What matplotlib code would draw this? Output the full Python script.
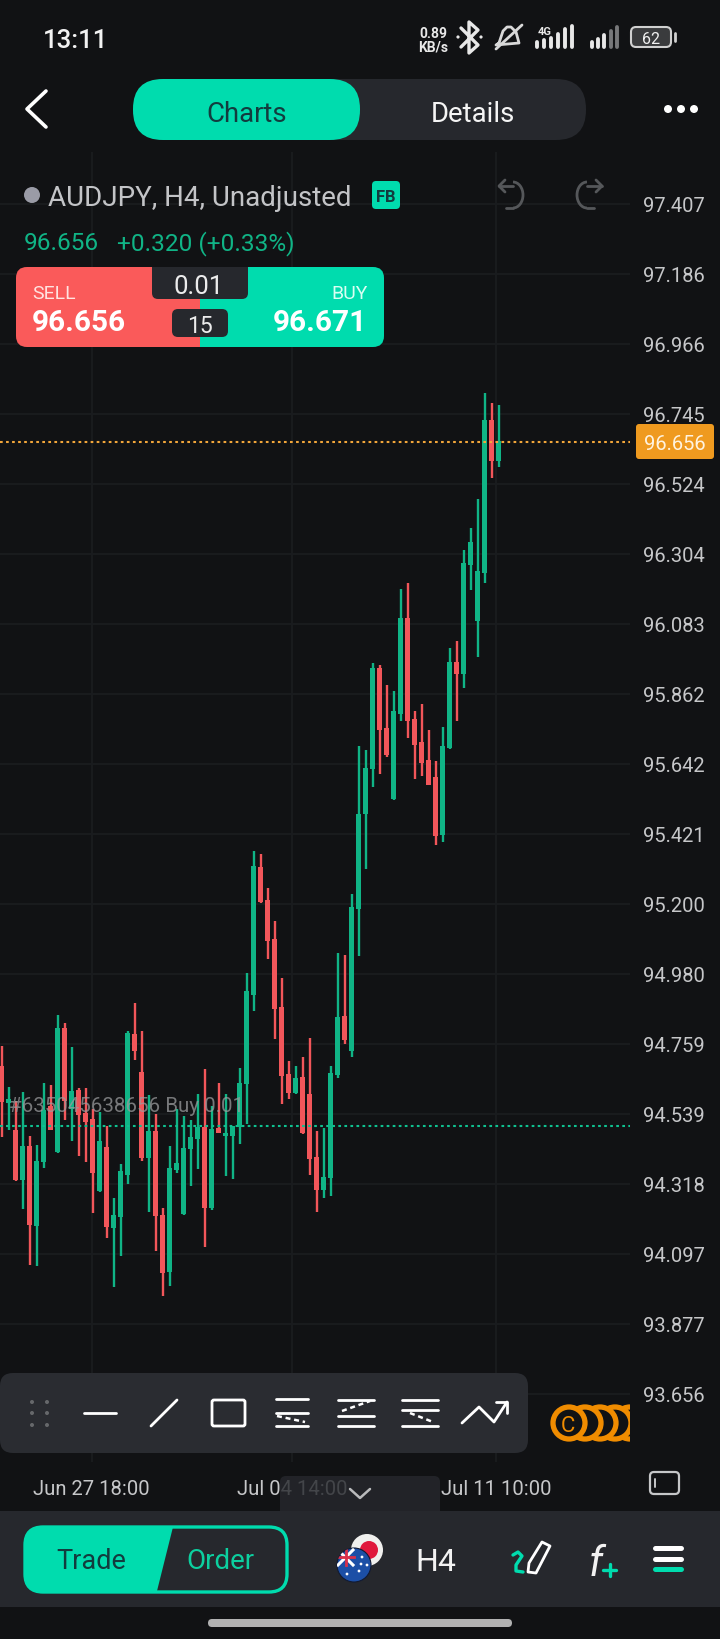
import matplotlib
matplotlib.use("Agg")
import matplotlib.pyplot as plt
from matplotlib.patches import FancyBboxPatch, Circle, Rectangle, Polygon, Arc

plt.rcParams['font.family'] = ['Roboto', 'DejaVu Sans']

#Data
opens = [94.688, 94.573, 94.486, 94.331, 94.438, 94.186, 94.386, 94.564, 94.417, 94.809,
         94.554, 94.612, 94.541, 94.522, 94.296, 94.433, 94.178, 94.212, 94.347, 94.790,
         94.669, 94.399, 94.485, 94.220, 94.039, 94.361, 94.223, 94.426, 94.459, 94.498,
         94.242, 94.494, 94.467, 94.470, 94.496, 94.631, 94.914, 95.316, 95.213, 95.090,
         94.874, 94.663, 94.603, 94.655, 94.602, 94.402, 94.297, 94.335, 94.661, 94.846,
         94.738, 95.183, 95.482, 95.625, 95.944, 95.755, 95.531, 95.799, 96.101, 95.783,
         95.710, 95.654, 95.599, 95.417, 95.691, 95.962, 95.926, 96.269, 96.091, 96.242,
         96.725, 96.597]
closes = [94.575, 94.585, 94.331, 94.438, 94.188, 94.390, 94.549, 94.488, 94.810, 94.580,
          94.610, 94.536, 94.514, 94.352, 94.454, 94.181, 94.220, 94.357, 94.793, 94.735,
          94.398, 94.484, 94.215, 94.036, 94.369, 94.382, 94.431, 94.465, 94.498, 94.242,
          94.491, 94.479, 94.477, 94.500, 94.635, 94.926, 95.319, 95.205, 95.084, 94.868,
          94.659, 94.605, 94.652, 94.478, 94.397, 94.297, 94.340, 94.666, 94.844, 94.771,
          95.190, 95.485, 95.630, 95.944, 95.749, 95.670, 95.807, 96.101, 95.776, 95.702,
          95.644, 95.576, 95.414, 95.699, 95.962, 95.926, 96.275, 96.342, 96.249, 96.725,
          96.597, 96.660]
highs = [94.751, 94.622, 94.580, 94.606, 94.470, 94.441, 94.635, 94.630, 94.850, 94.825,
         94.748, 94.619, 94.619, 94.554, 94.543, 94.501, 94.272, 94.381, 94.798, 94.888,
         94.798, 94.598, 94.538, 94.241, 94.436, 94.554, 94.531, 94.518, 94.601, 94.680,
         94.564, 94.636, 94.601, 94.501, 94.682, 94.981, 95.366, 95.358, 95.249, 95.145,
         94.966, 94.704, 94.688, 94.718, 94.776, 94.484, 94.493, 94.690, 95.044, 95.039,
         95.230, 95.697, 95.685, 95.959, 95.954, 95.890, 95.870, 96.193, 96.211, 95.807,
         95.829, 95.748, 95.650, 95.757, 96.006, 96.030, 96.314, 96.385, 96.475, 96.811,
         96.779, 96.773]
lows = [94.465, 94.486, 94.328, 94.239, 94.063, 94.060, 94.369, 94.486, 94.415, 94.519,
        94.454, 94.407, 94.388, 94.226, 94.293, 94.146, 93.992, 94.089, 94.318, 94.709,
        94.390, 94.228, 94.107, 93.964, 93.997, 94.353, 94.221, 94.312, 94.365, 94.120,
        94.234, 94.479, 94.344, 94.333, 94.442, 94.505, 94.864, 95.203, 95.025, 94.775,
        94.568, 94.585, 94.601, 94.476, 94.347, 94.230, 94.273, 94.280, 94.651, 94.757,
        94.719, 95.037, 95.310, 95.567, 95.610, 95.662, 95.529, 95.777, 95.722, 95.594,
        95.604, 95.574, 95.387, 95.394, 95.689, 95.777, 95.880, 96.191, 95.977, 96.213,
        96.541, 96.578]
price_ticks = ["97.407", "97.186", "96.966", "96.745", "96.524", "96.304", "96.083", "95.862", "95.642",
               "95.421", "95.200", "94.980", "94.759", "94.539", "94.318", "94.097", "93.877", "93.656"]
date_ticks = [12.85, 41.5, 70.65]
date_labels = ["Jun 27 18:00", "Jul 04 14:00", "Jul 11 10:00"]
bid_price = 96.656
order_price = 94.501

BG = "#111214"
PANEL = "#26282d"
TEAL = "#00dcae"
GREEN = "#10b486"
RED = "#f2565a"
DARK_TXT = "#123c3e"
GRID = "#1a1c1f"
LABEL = "#c6c7c9"
DOTS = (0, (1.3, 1.6))

fig = plt.figure(figsize=(7.2, 16.4), dpi=100, facecolor=BG)

#chart, axes box is 630 px wide, from y=153 to y=1463
ax = fig.add_axes([0, 1 - 1463/1640, 630/720, (1463 - 153)/1640], facecolor=BG, zorder=1)
ax.set_xlim(-0.24, 89.76)
ax.set_ylim(93.441, 97.570)
for s in ax.spines.values():
    s.set_visible(False)
ax.yaxis.tick_right()
ax.set_yticks([float(t) for t in price_ticks])
ax.set_yticklabels(price_ticks, fontsize=14.5, color=LABEL)
ax.set_xticks(date_ticks)
ax.set_xticklabels(date_labels, fontsize=14.6, color=LABEL)
ax.tick_params(axis='y', length=0, pad=9.5)
ax.tick_params(axis='x', length=0, pad=12)
ax.grid(True, color=GRID, lw=1.3)
ax.set_axisbelow(True)

x = list(range(len(opens)))
colors = [GREEN if c >= o else RED for o, c in zip(opens, closes)]
ax.vlines(x, lows, highs, colors=colors, lw=1.7, zorder=3)
ax.bar(x, [abs(c - o) for o, c in zip(opens, closes)], bottom=[min(o, c) for o, c in zip(opens, closes)],
       width=0.72, color=colors, zorder=3)

ax.axhline(bid_price, color="#f2a63a", lw=1.5, ls=DOTS, zorder=4)
ax.axhline(order_price, color="#0fc08f", lw=1.5, ls=DOTS, zorder=4)
ax.text(1.0, 94.565, "#635045638656 Buy 0.01", fontsize=14.8, color="#9a9b9d", alpha=0.75, va='center', zorder=5)

#app chrome on top, in pixel coords
ui = fig.add_axes([0, 0, 1, 1], zorder=2)
ui.set_xlim(0, 720)
ui.set_ylim(1640, 0)
ui.axis('off')
ui.patch.set_alpha(0)


def rbox(x0, y0, x1, y1, r, fc="none", ec="none", lw=0, z=2, **kw):
    p = FancyBboxPatch((x0 + r, y0 + r), x1 - x0 - 2*r, y1 - y0 - 2*r, boxstyle="round,pad=%g,rounding_size=%g" % (r, r),
                       fc=fc, ec=ec, lw=lw, zorder=z, **kw)
    ui.add_patch(p)
    return p


def line(xs, ys, c="white", lw=2, z=3, **kw):
    ui.plot(xs, ys, color=c, lw=lw, zorder=z, solid_capstyle='round', solid_joinstyle='round', **kw)


def label(x, y, s, size, c="white", ha='center', weight='normal', z=4, **kw):
    ui.text(x, y, s, fontsize=size, color=c, ha=ha, va='center_baseline', weight=weight, zorder=z, **kw)


# status bar
label(43, 39, "13:11", 18.6, c="#f2f2f2", ha='left', weight='medium')
label(433, 32, "0.89", 10, c="#e8e8e8", weight='bold')
label(433, 46, "KB/s", 10, c="#e8e8e8", weight='bold')
line([461, 478, 469, 469, 478, 461], [29, 46, 54, 23, 31, 48], c="#e8e8e8", lw=2.4)
ui.add_patch(Circle((458, 38), 1.6, fc="#e8e8e8", zorder=3))
ui.add_patch(Circle((481, 38), 1.6, fc="#e8e8e8", zorder=3))
line([499, 503, 507, 511, 516, 519, 496, 499], [44, 32, 28, 28, 33, 44, 46, 44], c="#d8d8d8", lw=2)
line([496, 522], [50, 26], c="#d8d8d8", lw=2)
label(545, 31, "4G", 8, c="#e8e8e8", weight='bold')
for i, h in enumerate([5, 7, 9, 13, 18, 21]):
    line([537 + i*7, 537 + i*7], [48, 48 - h], c="#e8e8e8", lw=2.8)
for i, h in enumerate([5, 8, 12, 16, 20]):
    line([592 + i*6.2, 592 + i*6.2], [48, 48 - h], c="#e8e8e8" if i < 3 else "#77787a", lw=2.8)
rbox(631, 28, 671, 48, 5, ec="#d0d0d0", lw=1.5, fc="#3a3b3d")
label(651, 38.5, "62", 11.5, c="#f0f0f0")
line([675, 675], [34, 42], c="#d0d0d0", lw=2)

# top switch
line([46, 27, 46], [92, 110, 128], lw=2.6)
rbox(133, 80, 586, 141, 30, fc=PANEL)
rbox(133, 80, 360, 141, 30, fc=TEAL, z=3)
label(247, 111, "Charts", 19.8, c=DARK_TXT)
label(473, 111, "Details", 19.8, c="#f5f5f5")
for cx in [668, 681, 694]:
    ui.add_patch(Circle((cx, 110), 4, fc="white", zorder=3))

# symbol header
ui.add_patch(Circle((32, 196), 8, fc="#9a9ba6", zorder=3))
label(48, 196, "AUDJPY, H4, Unadjusted", 20, c="#c3c4c7", ha='left')
rbox(372, 182, 400, 210, 4, fc=TEAL)
label(386, 196, "FB", 12, c=DARK_TXT, weight='bold')
ui.add_patch(Arc((513, 196), 20, 26, theta1=-90, theta2=90, ec="#55575a", lw=2, zorder=3))
line([499, 513], [187, 187], c="#55575a", lw=2)
line([505, 499, 505], [181, 187, 193], c="#55575a", lw=2)
ui.add_patch(Arc((587, 196), 20, 26, theta1=90, theta2=270, ec="#55575a", lw=2, zorder=3))
line([587, 602], [187, 187], c="#55575a", lw=2)
line([596, 602, 596], [181, 187, 193], c="#55575a", lw=2)
line([587, 594], [209, 209], c="#55575a", lw=2)
line([506, 513], [209, 209], c="#55575a", lw=2)
label(24, 241, "96.656", 17.6, c=GREEN, ha='left')
label(117, 241, "+0.320 (+0.33%)", 17.6, c=GREEN, ha='left')

# sell / buy box
b1 = rbox(16, 268, 384, 348, 11, fc="#fa5a5a")
b1.set_clip_path(Rectangle((0, 260), 200, 100, transform=ui.transData))
b2 = rbox(16, 268, 384, 348, 11, fc=TEAL)
b2.set_clip_path(Rectangle((200, 260), 200, 100, transform=ui.transData))
rbox(152, 262, 248, 300, 6, fc=PANEL, z=3).set_clip_path(Rectangle((100, 268), 200, 40, transform=ui.transData))
label(199, 284, "0.01", 18.5, c="#ececec")
rbox(172, 310, 228, 338, 6, fc=PANEL, z=3)
label(200, 324, "15", 16.5, c="#ececec")
label(32, 292, "SELL", 14, c="#ffe3e0", ha='left')
label(32, 320, "96.656", 21.4, ha='left', weight='bold')
label(368, 292, "BUY", 14, c="#d9fff2", ha='right')
label(367, 320, "96.671", 21.4, ha='right', weight='bold')

# current price tag
rbox(636, 425, 714, 460, 3, fc="#ef9a1f")
label(675, 442.5, "96.656", 14.5, c="#fff3df")

# drawing toolbar
rbox(0, 1374, 528, 1454, 13, fc="#2a2c31")
for dx in [32, 47]:
    for dy in [1403, 1414, 1426]:
        ui.add_patch(Circle((dx, dy), 2, fc="#66686b", zorder=3))
line([84, 116], [1414, 1414])
line([151, 177], [1427, 1401])
rbox(212, 1401, 245, 1427, 2, ec="white", lw=2, z=3)
for xs, ys, d in [((276, 308), (1400, 1414, 1427), ((277, 305), (1417, 1423))),
                  ((338, 374), (1401, 1417, 1427), ((342, 370), (1412, 1402))),
                  ((402, 438), (1401, 1411, 1427), ((410, 433), (1414, 1423)))]:
    for yy in ys:
        line(xs, [yy, yy])
    ui.plot(d[0], d[1], color="white", lw=1.8, ls=(0, (2, 1.5)), zorder=3)
line([462, 479, 494, 507], [1424, 1408, 1423, 1403], lw=2)
line([496, 507, 507], [1403, 1403, 1414], lw=2)

# coins
coin_clip = Rectangle((540, 1400), 90, 50, transform=ui.transData)
for cx in [630, 615, 600, 585, 569]:
    c = Circle((cx, 1424), 16, fc=BG, ec="#f08c00", lw=3.8, zorder=3)
    ui.add_patch(c)
    c.set_clip_path(coin_clip)
label(568, 1424, "C", 16, c="#f08c00")

# collapse handle and range button
rbox(280, 1477, 440, 1530, 6, fc=PANEL, z=2, alpha=0.82)
line([350, 360, 370], [1490, 1499, 1490], c="#b9babc", lw=1.8, z=5)
rbox(650, 1473, 679, 1495, 4, ec="#c6c7c9", lw=1.6, z=3)
line([655, 655], [1480, 1488], c="#c6c7c9", lw=1.4)

# bottom bar
ui.add_patch(Rectangle((0, 1512), 720, 96, fc=PANEL, zorder=3))
rbox(25, 1528, 287, 1593, 18, fc="#26282d", ec=TEAL, lw=2.4, z=4)
tr = rbox(25, 1528, 287, 1593, 18, fc=TEAL, z=4)
tr.set_clip_path(Polygon([(20, 1520), (175, 1520), (155, 1600), (20, 1600)], transform=ui.transData))
label(91, 1559, "Trade", 19.5, c=DARK_TXT, z=5)
label(220, 1559, "Order", 20, c="#0ccf9f", z=5)

ui.add_patch(Circle((367, 1551), 16, fc="#f0f0ee", zorder=4))
ui.add_patch(Circle((369, 1551), 9, fc="#e0183c", zorder=4))
flag = Circle((354, 1566), 17, fc="#1c4fa6", ec="#111a33", lw=0.8, zorder=5)
ui.add_patch(flag)
for xs, ys, col, w in [([338, 353], [1551, 1566], "white", 2.2), ([338, 353], [1566, 1551], "white", 2.2),
                       ([346, 346], [1549, 1566], "#d9304a", 2.0), ([337, 354], [1558, 1558], "#d9304a", 2.0)]:
    art, = ui.plot(xs, ys, color=col, lw=w, zorder=5)
    art.set_clip_path(flag)
for sx, sy in [(362, 1558), (367, 1566), (359, 1572), (347, 1575), (361, 1565)]:
    ui.add_patch(Circle((sx, sy), 1.4, fc="white", zorder=5))
label(436, 1560, "H4", 23, c="#f2f2f2", z=5)

line([513, 518, 522, 516, 516, 523], [1556, 1553, 1557, 1566, 1572, 1573], c=TEAL, lw=2.4, z=5)
ui.add_patch(Polygon([(542, 1543), (550, 1547), (536, 1574), (528, 1573), (529, 1564)], fc="none", ec="white", lw=2, zorder=5, joinstyle='round'))
label(596, 1560, "f", 30, c="#f2f2f2", style='italic', z=5)
line([603, 616], [1571, 1571], c=TEAL, lw=2.4, z=5)
line([609.5, 609.5], [1565, 1577], c=TEAL, lw=2.4, z=5)
line([655, 681], [1549, 1549], lw=3.6, z=5)
line([655, 681], [1560, 1560], lw=3.6, z=5)
line([655, 681], [1570, 1570], c=TEAL, lw=3.6, z=5)

rbox(208, 1620, 512, 1628, 4, fc="#b2b2b2", z=5)

fig.savefig("out.png", dpi=100, facecolor=BG)
